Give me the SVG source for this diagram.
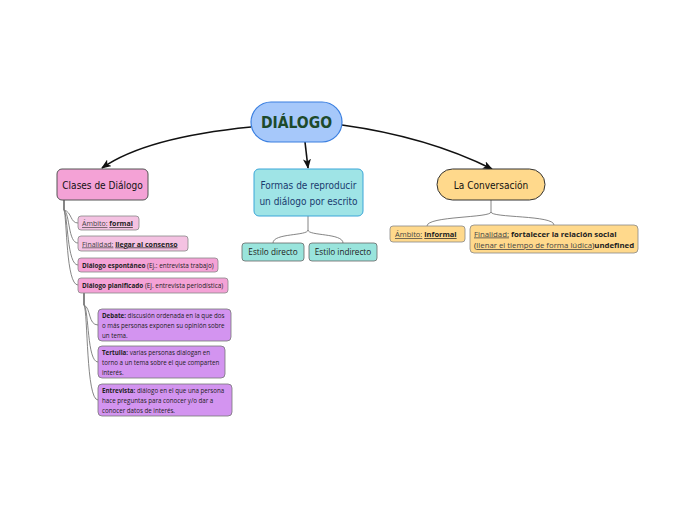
<svg xmlns="http://www.w3.org/2000/svg" width="697" height="520" viewBox="0 0 697 520">
<defs>
<marker id="ah" markerWidth="10" markerHeight="8" refX="9" refY="4" orient="auto" markerUnits="userSpaceOnUse">
<path d="M0,0 L10,4 L0,8 L2.5,4 Z" fill="#111"/>
</marker>
<style>
.main{stroke:#111;stroke-width:1.6;fill:none}
.sub{stroke:#777;stroke-width:0.9;fill:none}
.trunk{stroke:#444;stroke-width:1.3;fill:none}
.t{font-family:"Open Sans","Noto Sans",sans-serif;fill:#222}
.h{font-family:"DejaVu Sans Condensed","DejaVu Sans",sans-serif;font-weight:bold}
.h2{font-family:"DejaVu Sans Condensed","DejaVu Sans",sans-serif;font-weight:normal}
.u{text-decoration:underline}
.b{font-weight:bold}
</style>
</defs>
<rect width="697" height="520" fill="#fff"/>
<g id="connectors">
<path class="main" d="M251,127 C190,133 135,145 102,168" marker-end="url(#ah)"/>
<path class="main" d="M305,142 L308,168" marker-end="url(#ah)"/>
<path class="main" d="M342,125 C400,133 450,148 492,169" marker-end="url(#ah)"/>
<path class="trunk" d="M64,200 L64,210"/>
<path class="sub" d="M64,210 C72,212 70,223 78,223"/>
<path class="sub" d="M64,210 C70,214 68,243 78,243"/>
<path class="sub" d="M64,210 C68,216 67,265 78,265"/>
<path class="sub" d="M64,210 C67,218 66,285 78,285"/>
<path class="trunk" d="M84,293 L84,305"/>
<path class="sub" d="M84,305 C91,308 88,325 98,325"/>
<path class="sub" d="M84,305 C89,310 87,362 98,362"/>
<path class="sub" d="M84,305 C88,312 86,400 98,400"/>
<path class="sub" d="M308,216 L308,230 C308,236 273,233 273,243"/>
<path class="sub" d="M308,230 C308,236 343,233 343,243"/>
<path class="sub" d="M491,200 L491,212 C491,218 427,216 427,226"/>
<path class="sub" d="M491,212 C491,218 554,215 554,225"/>
</g>
<g id="dialogo">
<rect x="251" y="102" width="91" height="40" rx="20" fill="#a6c8fa" stroke="#3a7fe0" stroke-width="1.2"/>
<text class="h" x="296.5" y="127.5" text-anchor="middle" font-size="15.5" fill="#1d4a2b">DIÁLOGO</text>
</g>
<g id="clases">
<rect x="57" y="169" width="91" height="31" rx="5" fill="#f4a2d6" stroke="#555" stroke-width="1"/>
<text class="h2" x="102.5" y="188.5" text-anchor="middle" font-size="10" fill="#111">Clases de Diálogo</text>
</g>
<g id="formas">
<rect x="254" y="169" width="109" height="47" rx="5" fill="#9fe4e6" stroke="#3aa6d8" stroke-width="1"/>
<text class="h2" x="308.5" y="189" text-anchor="middle" font-size="10" fill="#1a3a6e">Formas de reproducir</text>
<text class="h2" x="308.5" y="205" text-anchor="middle" font-size="10" fill="#1a3a6e">un diálogo por escrito</text>
</g>
<g id="conversacion">
<rect x="437" y="169" width="108" height="31" rx="15.5" fill="#ffd98c" stroke="#333" stroke-width="1"/>
<text class="h2" x="491" y="188.5" text-anchor="middle" font-size="10" fill="#111">La Conversación</text>
</g>
<g id="ambito-formal">
<rect x="78" y="216" width="61" height="14" rx="3" fill="#f4c2e2" stroke="#888" stroke-width="0.8"/>
<text class="t" x="82" y="226" font-size="7"><tspan class="u" fill="#444">Ámbito:</tspan> <tspan class="u b">formal</tspan></text>
</g>
<g id="finalidad-consenso">
<rect x="78" y="236" width="110" height="15" rx="3" fill="#f4c2e2" stroke="#888" stroke-width="0.8"/>
<text class="t" x="82" y="246.5" font-size="7"><tspan class="u" fill="#444">Finalidad:</tspan> <tspan class="u b">llegar al consenso</tspan></text>
</g>
<g id="espontaneo">
<rect x="78" y="258" width="140" height="14" rx="3" fill="#f4a2d6" stroke="#888" stroke-width="0.8"/>
<text class="t" x="82" y="267.5" font-size="6.4"><tspan class="b">Diálogo espontáneo</tspan> (Ej.: entrevista trabajo)</text>
</g>
<g id="planificado">
<rect x="78" y="278" width="150" height="15" rx="3" fill="#f4a2d6" stroke="#888" stroke-width="0.8"/>
<text class="t" x="82" y="288" font-size="6.4"><tspan class="b">Diálogo planificado</tspan> (Ej. entrevista periodística)</text>
</g>
<g id="debate">
<rect x="98" y="309" width="133" height="32" rx="4" fill="#d394f0" stroke="#777" stroke-width="0.8"/>
<text class="t" font-size="6.2"><tspan x="102" y="317.5"><tspan class="b">Debate:</tspan> discusión ordenada en la que dos</tspan><tspan x="102" y="327.5">o más personas exponen su opinión sobre</tspan><tspan x="102" y="337.5">un tema.</tspan></text>
</g>
<g id="tertulia">
<rect x="98" y="346" width="127" height="32" rx="4" fill="#d394f0" stroke="#777" stroke-width="0.8"/>
<text class="t" font-size="6.2"><tspan x="102" y="355"><tspan class="b">Tertulia:</tspan> varias personas dialogan en</tspan><tspan x="102" y="365">torno a un tema sobre el que comparten</tspan><tspan x="102" y="375">interés.</tspan></text>
</g>
<g id="entrevista">
<rect x="98" y="384" width="134" height="32" rx="4" fill="#d394f0" stroke="#777" stroke-width="0.8"/>
<text class="t" font-size="6.2"><tspan x="102" y="393"><tspan class="b">Entrevista:</tspan> diálogo en el que una persona</tspan><tspan x="102" y="403">hace preguntas para conocer y/o dar a</tspan><tspan x="102" y="413">conocer datos de interés.</tspan></text>
</g>
<g id="estilo-directo">
<rect x="242" y="243" width="62" height="18" rx="3" fill="#99e4dc" stroke="#666" stroke-width="0.8"/>
<text class="t" x="273" y="255" text-anchor="middle" font-size="8.2">Estilo directo</text>
</g>
<g id="estilo-indirecto">
<rect x="309" y="243" width="68" height="18" rx="3" fill="#99e4dc" stroke="#666" stroke-width="0.8"/>
<text class="t" x="343" y="255" text-anchor="middle" font-size="8.2">Estilo indirecto</text>
</g>
<g id="ambito-informal">
<rect x="390" y="226" width="75" height="16" rx="3" fill="#ffd98c" stroke="#888" stroke-width="0.8"/>
<text class="t" x="395" y="237" font-size="7.5"><tspan class="u" fill="#444">Ámbito:</tspan> <tspan class="u b">informal</tspan></text>
</g>
<g id="finalidad-social">
<rect x="470" y="225" width="168" height="28" rx="4" fill="#ffd98c" stroke="#888" stroke-width="0.8"/>
<text class="t" font-size="7.8"><tspan x="474" y="236.5"><tspan class="u" fill="#444">Finalidad:</tspan> <tspan class="b">fortalecer la relación social</tspan></tspan><tspan x="474" y="248">(<tspan class="u" fill="#444">llenar el tiempo de forma lúdica</tspan>)<tspan class="b">undefined</tspan></tspan></text>
</g>
</svg>
